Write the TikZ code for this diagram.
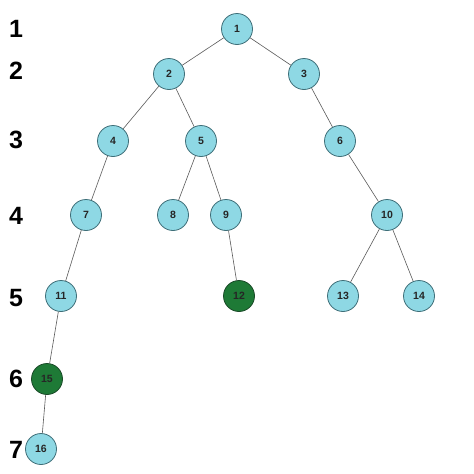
\documentclass[tikz,border=0pt]{standalone}
\usepackage{fontspec}
\setmainfont{Liberation Sans}
\definecolor{nodefill}{HTML}{8ED8E4}
\definecolor{nodedraw}{HTML}{3E6E78}
\definecolor{greenfill}{HTML}{1E7A36}
\definecolor{greendraw}{HTML}{1A4A28}
\definecolor{edgecol}{HTML}{5A5A5A}
\tikzset{
  tnode/.style={circle, draw=nodedraw, fill=nodefill, line width=0.8pt, minimum size=31pt, inner sep=0pt, font=\fontsize{10.5}{10.5}\selectfont\bfseries, text=black!85},
  gnode/.style={tnode, fill=greenfill, draw=greendraw},
  lvl/.style={anchor=west, inner sep=0pt, font=\fontsize{25}{25}\selectfont\bfseries},
  edge/.style={draw=edgecol, line width=0.6pt}
}
\begin{document}
\begin{tikzpicture}[x=1pt,y=-1pt]
\useasboundingbox (0,0) rectangle (474,474);
\fill[white] (0,0) rectangle (474,474);
% level labels
\node[lvl] (l1) at (9,29) {1};
\node[lvl] (l2) at (9,71) {2};
\node[lvl] (l3) at (9,140) {3};
\node[lvl] (l4) at (9,216) {4};
\node[lvl] (l5) at (9,298) {5};
\node[lvl] (l6) at (9,379) {6};
\node[lvl] (l7) at (9,450) {7};
% nodes
\node[tnode] (n1) at (237,29) {1};
\node[tnode] (n2) at (169,74) {2};
\node[tnode] (n3) at (304,74) {3};
\node[tnode] (n4) at (113,141) {4};
\node[tnode] (n5) at (201,141) {5};
\node[tnode] (n6) at (340,141) {6};
\node[tnode] (n7) at (86,215) {7};
\node[tnode] (n8) at (173,215) {8};
\node[tnode] (n9) at (226,215) {9};
\node[tnode] (n10) at (387,215) {10};
\node[tnode] (n11) at (61,296) {11};
\node[gnode] (n12) at (239,296) {12};
\node[tnode] (n13) at (343,296) {13};
\node[tnode] (n14) at (419,296) {14};
\node[gnode] (n15) at (47,379) {15};
\node[tnode] (n16) at (41,449) {16};
% edges
\draw[edge] (n1) -- (n2);
\draw[edge] (n1) -- (n3);
\draw[edge] (n2) -- (n4);
\draw[edge] (n2) -- (n5);
\draw[edge] (n3) -- (n6);
\draw[edge] (n4) -- (n7);
\draw[edge] (n5) -- (n8);
\draw[edge] (n5) -- (n9);
\draw[edge] (n6) -- (n10);
\draw[edge] (n7) -- (n11);
\draw[edge] (n9) -- (n12);
\draw[edge] (n10) -- (n13);
\draw[edge] (n10) -- (n14);
\draw[edge] (n11) -- (n15);
\draw[edge] (n15) -- (n16);
\end{tikzpicture}
\end{document}
